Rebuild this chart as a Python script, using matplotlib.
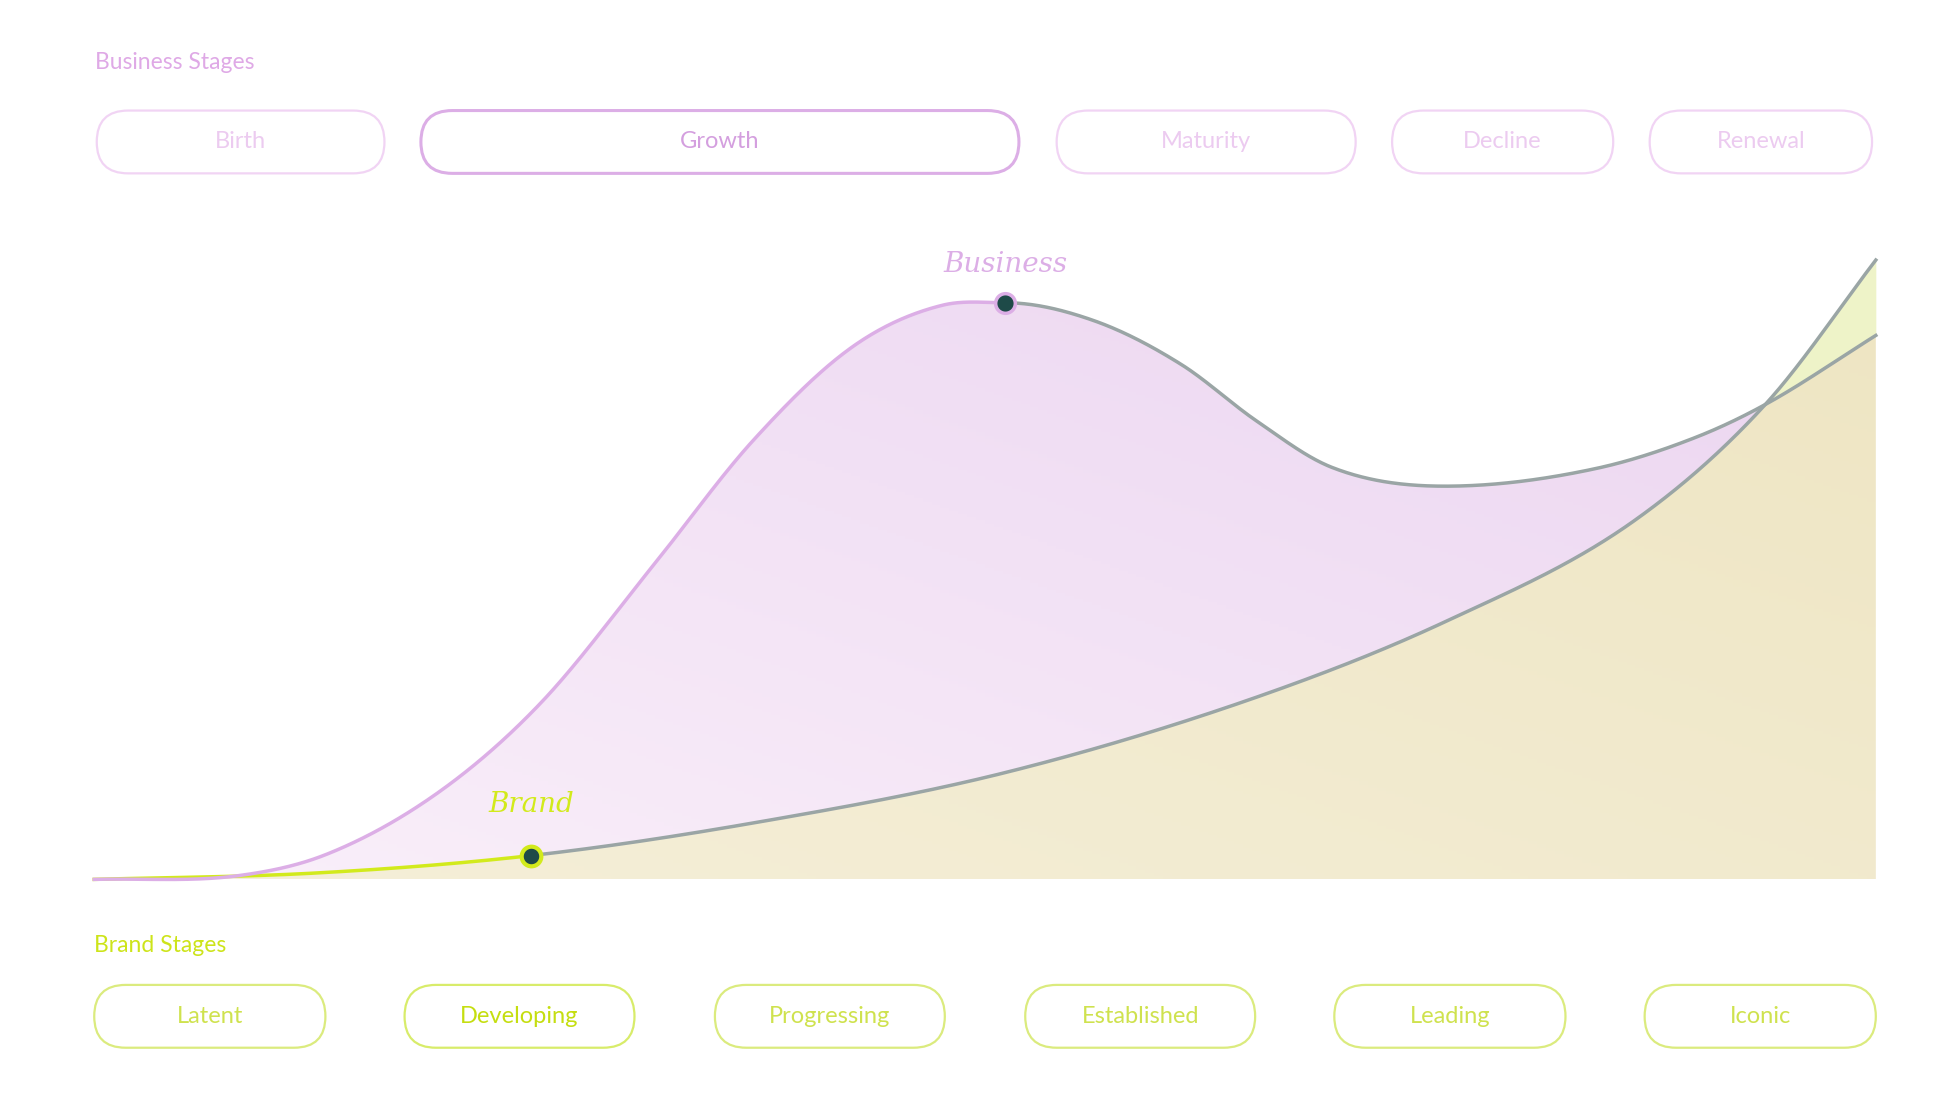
import numpy as np
import matplotlib
matplotlib.use("Agg")
import matplotlib.pyplot as plt
from matplotlib.patches import FancyBboxPatch
from matplotlib.colors import LinearSegmentedColormap

# Curve data (x position along stage axis, height above baseline)
biz_x = [75, 190, 260, 350, 430, 520, 600, 680, 750, 800, 870, 940, 1000, 1060, 1150, 1270, 1350, 1405, 1493]
biz_y = [0, 3, 20, 70, 140, 250, 350, 425, 457, 459, 445, 410, 365, 328, 313, 327, 352, 378, 433]
brand_x = [75, 250, 423, 600, 800, 1000, 1150, 1300, 1405, 1493]
brand_y = [0, 5, 19, 45, 85, 145, 205, 285, 378, 493]

business_stages = ["Birth", "Growth", "Maturity", "Decline", "Renewal"]
business_bounds = [(77, 306), (335, 811), (841, 1079), (1108, 1284), (1313, 1490)]
brand_stages = ["Latent", "Developing", "Progressing", "Established", "Leading", "Iconic"]
brand_bounds = [(75, 259), (322, 505), (569, 752), (816, 999), (1062, 1246), (1309, 1493)]
biz_point = 800
brand_point = 423

BASE = 700
PURPLE = "#dcaee6"
GREEN = "#d2ea1c"
GREY = "#9aa5a5"

fig = plt.figure(figsize=(19.6, 11.03), dpi=100)
ax = fig.add_axes([0, 0, 1, 1])
ax.set_xlim(0, 1560)
ax.set_ylim(878, 0)
ax.axis("off")

xs = np.linspace(75, 1493, 1200)

def smooth(xp, yp):
    xp = np.array(xp, float); yp = np.array(yp, float)
    n = len(xp); m = np.zeros(n)
    d = np.diff(yp) / np.diff(xp)
    m[0], m[-1] = d[0], d[-1]
    for i in range(1, n - 1):
        if d[i-1] * d[i] <= 0:
            m[i] = 0
        else:
            m[i] = (d[i-1] + d[i]) / 2
    out = np.empty_like(xs)
    for j, x in enumerate(xs):
        i = max(min(np.searchsorted(xp, x) - 1, n - 2), 0)
        h = xp[i+1]-xp[i]; t = (x-xp[i])/h
        h00 = 2*t**3-3*t**2+1; h10 = t**3-2*t**2+t; h01 = -2*t**3+3*t**2; h11 = t**3-t**2
        out[j] = h00*yp[i]+h10*h*m[i]+h01*yp[i+1]+h11*h*m[i+1]
    return out

by = BASE - smooth(biz_x, biz_y)
ry = BASE - smooth(brand_x, brand_y)
lower = np.maximum(by, ry)

def grad_fill(y1, y2, c1, c2):
    poly = ax.fill_between(xs, y1, y2, color="none", lw=0)
    cmap = LinearSegmentedColormap.from_list("g", [c1, c2])
    X, Y = np.meshgrid(np.linspace(0, 1, 200), np.linspace(0, 1, 200))
    Z = (X + (1 - Y)) / 2
    im = ax.imshow(Z, cmap=cmap, extent=[75, 1493, BASE, 200], aspect="auto", zorder=1)
    im.set_clip_path(poly.get_paths()[0], transform=ax.transData)
    ax.set_ylim(878, 0); ax.set_xlim(0, 1560)

grad_fill(lower, BASE, "#f5efd9", "#eee5c2")
grad_fill(np.minimum(by, ry), ry, "#faf0fa", "#ebd4f0")
ax.fill_between(xs, ry, np.maximum(ry, by) * 0 + np.where(ry < by, by, ry), color="#eef3c8", lw=0, zorder=1)

m1 = xs <= brand_point
ax.plot(xs[m1], ry[m1], color=GREEN, lw=2.5, zorder=3)
ax.plot(xs[~m1], ry[~m1], color=GREY, lw=2.5, zorder=3)
m2 = xs <= biz_point
ax.plot(xs[m2], by[m2], color=PURPLE, lw=2.5, zorder=3)
ax.plot(xs[~m2], by[~m2], color=GREY, lw=2.5, zorder=3)

ax.scatter([biz_point], [np.interp(biz_point, xs, by)], s=200, color="#1e4a48", edgecolor=PURPLE, lw=2.5, zorder=4)
ax.scatter([brand_point], [np.interp(brand_point, xs, ry)], s=200, color="#1e4a48", edgecolor=GREEN, lw=3, zorder=4)
ax.text(biz_point, np.interp(biz_point, xs, by) - 20, "Business", color=PURPLE, fontsize=20,
        style="italic", ha="center", va="bottom", family="DejaVu Serif")
ax.text(brand_point, np.interp(brand_point, xs, ry) - 30, "Brand", color=GREEN, fontsize=20,
        style="italic", ha="center", va="bottom", family="DejaVu Serif")

def pills(labels, bounds, y0, h, ec, tc, hi=None, hec=None, htc=None, hlw=1.6):
    for i, (lab, (a, b)) in enumerate(zip(labels, bounds)):
        e, t, lw = ec, tc, 1.6
        if i == hi:
            e, t, lw = hec, htc, hlw
        p = FancyBboxPatch((a, y0), b - a, h,
                           boxstyle=f"round,pad=0,rounding_size={h/2}", fc="white", ec=e, lw=lw, zorder=2)
        ax.add_patch(p)
        ax.text((a + b)/2, y0 + h/2, lab, color=t, fontsize=17, ha="center", va="center", family="Lato")

ax.text(76, 50, "Business Stages", color="#dfa9e6", fontsize=16.5, va="center", family="Lato")
ax.text(75, 753, "Brand Stages", color="#cde41a", fontsize=16.5, va="center", family="Lato")
pills(business_stages, business_bounds, 88, 50, "#f1d4f4", "#eccbf0", hi=1, hec="#dcaee6", htc="#d49fdf", hlw=2.2)
pills(brand_stages, brand_bounds, 784, 50, "#dbeb7e", "#cfe24e", hi=1, hec="#d8ec6a", htc="#c5de10")

fig.savefig("out.png", dpi=100, facecolor="white")
